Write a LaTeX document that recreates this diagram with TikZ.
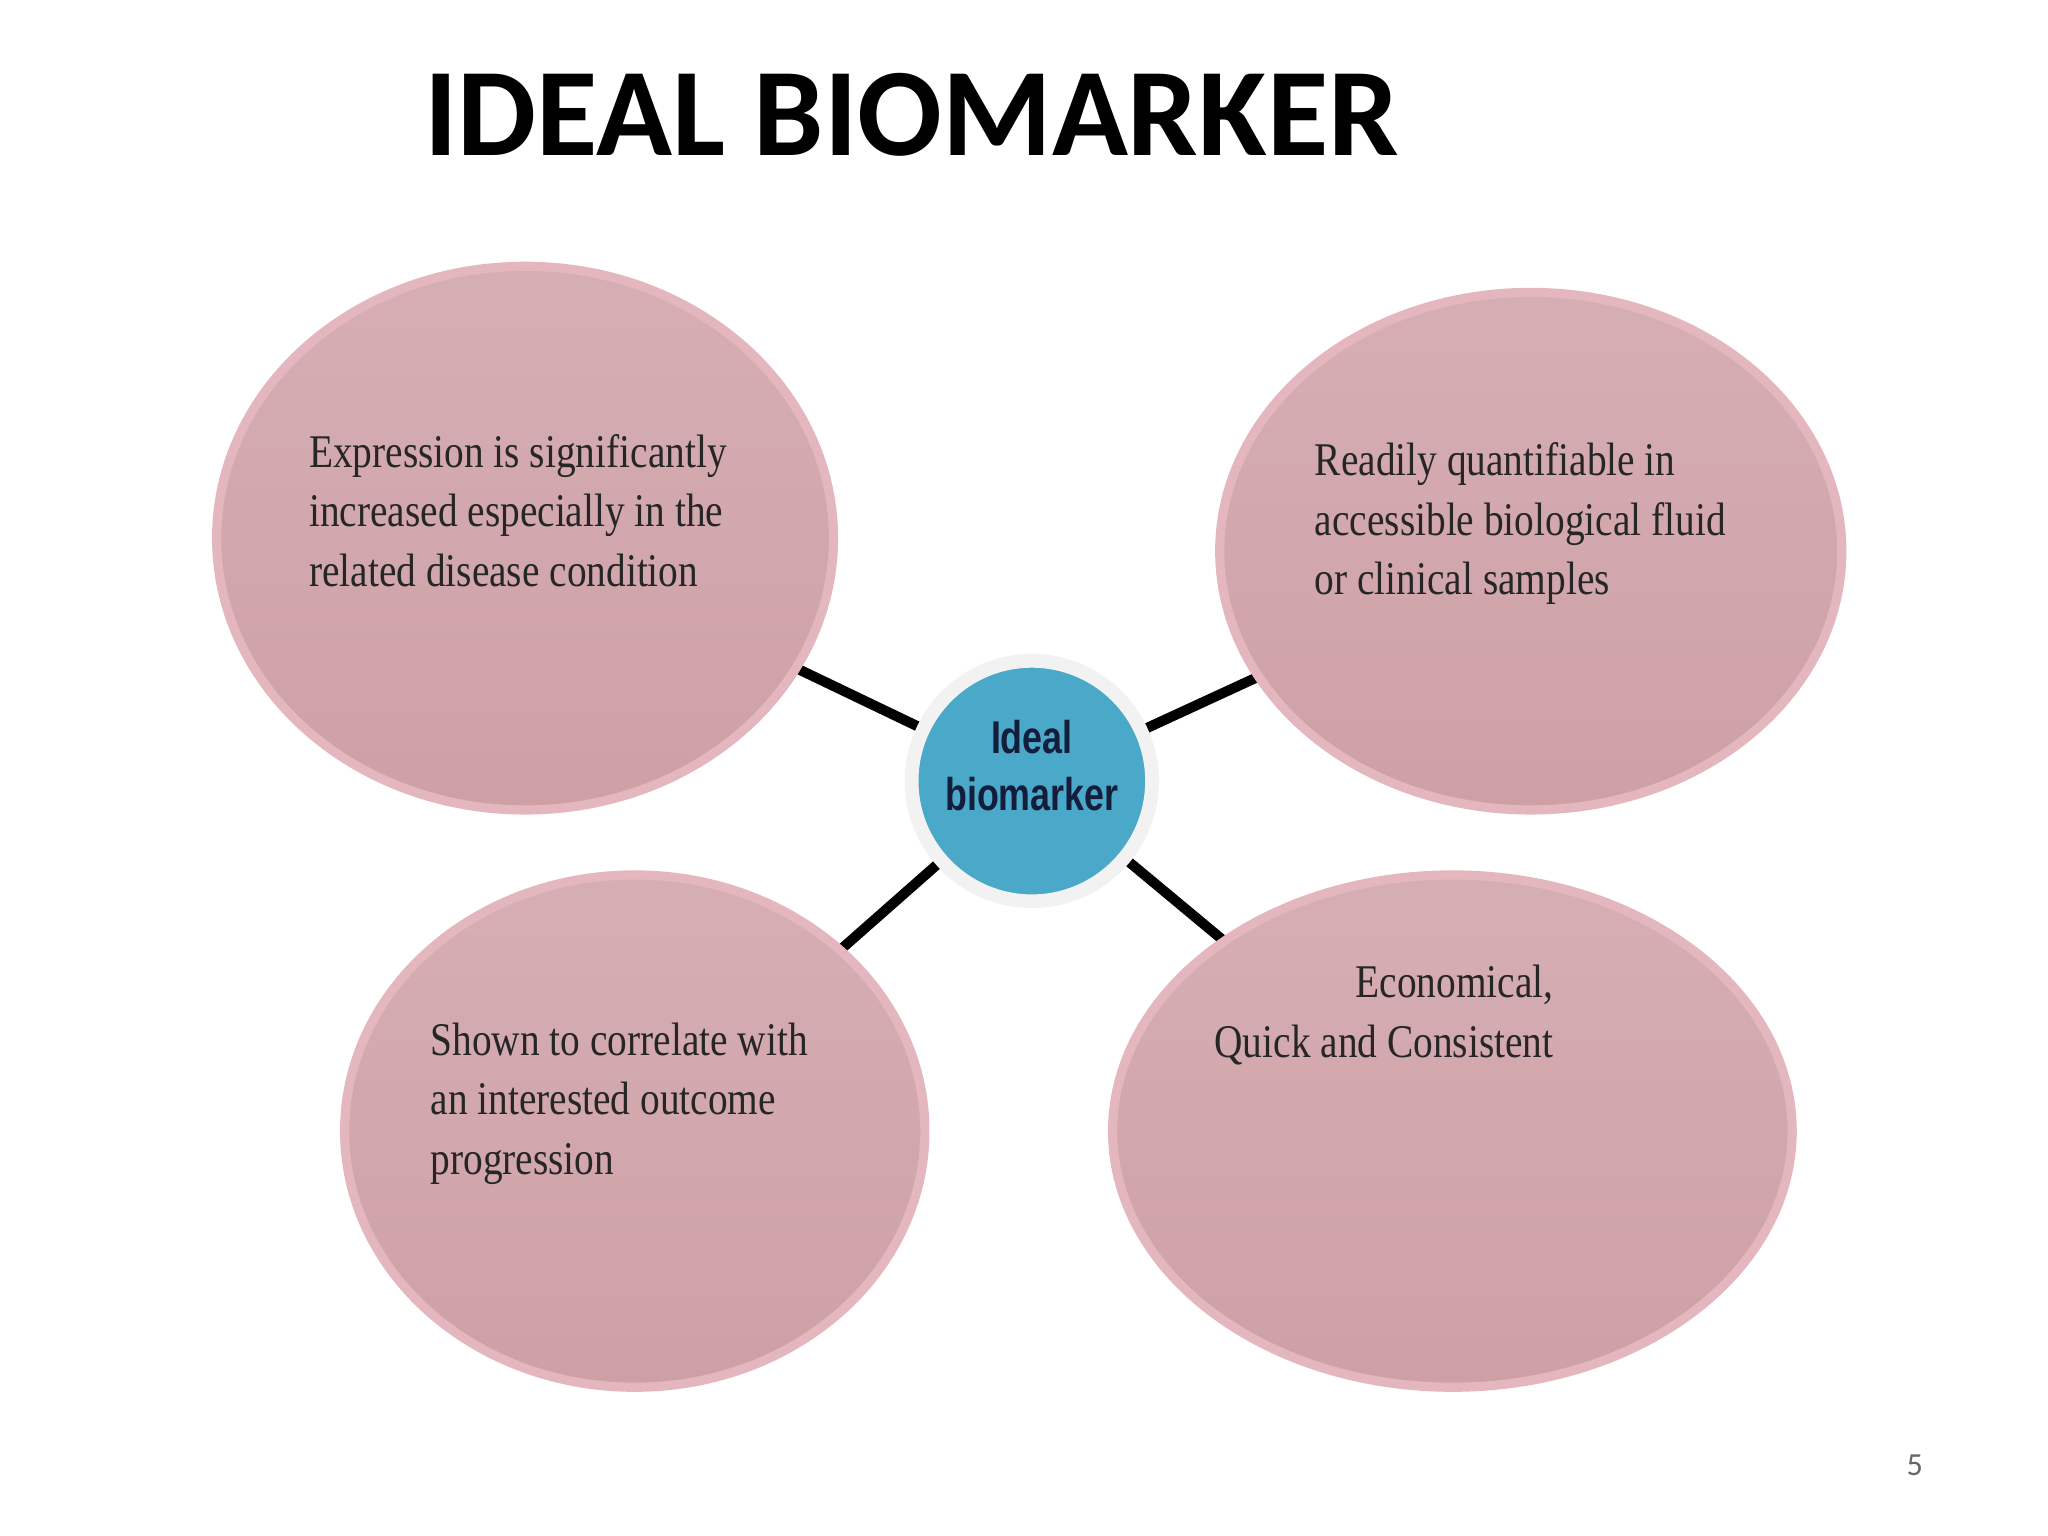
\documentclass[tikz,border=0pt]{standalone}
\usepackage{fontspec}
\setmainfont{Liberation Serif}[FakeStretch=0.84]
\newfontfamily\titlefont{Carlito}
\newfontfamily\narrowsans{Liberation Sans}[FakeStretch=0.78]
\usetikzlibrary{shapes.geometric}
\definecolor{pinkfill}{RGB}{206,160,166}
\definecolor{pinkedge}{RGB}{228,182,190}
\definecolor{bluefill}{RGB}{74,168,200}
\definecolor{navy}{RGB}{20,30,60}
\tikzset{
  bubble/.style={ellipse, draw=pinkedge, line width=2pt, top color=pinkfill!85!white, bottom color=pinkfill, inner sep=0pt},
  bubtext/.style={font=\fontsize{10.2}{13}\selectfont, text=black!85, align=left, inner sep=0pt},
  link/.style={line width=2.2pt, black}
}
\begin{document}
\begin{tikzpicture}[x=0.01cm,y=-0.01cm]
\useasboundingbox (0,0) rectangle (1568,1176);
\fill[white] (0,0) rectangle (1568,1176);
\node[font=\titlefont\bfseries\fontsize{27.3}{32}\selectfont] (title) at (698,88) {IDEAL BIOMARKER};
\node[font=\titlefont\fontsize{7}{8}\selectfont, text=black!60] (pg) at (1466,1122) {5};
\coordinate (c) at (790,598);
\coordinate (ctl) at (402,412);
\coordinate (ctr) at (1172,422);
\coordinate (cbl) at (486,866);
\coordinate (cbr) at (1112,866);
\draw[link] (c) -- (ctl);
\draw[link] (c) -- (ctr);
\draw[link] (c) -- (cbl);
\draw[link] (c) -- (cbr);
\node[bubble, minimum width=4.72cm, minimum height=4.16cm] (tl) at (ctl) {};
\node[bubble, minimum width=4.76cm, minimum height=3.96cm] (tr) at (ctr) {};
\node[bubble, minimum width=4.44cm, minimum height=3.92cm] (bl) at (cbl) {};
\node[bubble, minimum width=5.2cm, minimum height=3.92cm] (br) at (cbr) {};
\node[circle, fill=bluefill, draw=white!90!gray, line width=3pt, minimum size=1.84cm] (center) at (c) {};
\node[font=\narrowsans\bfseries\fontsize{10}{12.5}\selectfont, text=navy, align=center] (ctext) at (790,586) {Ideal\\biomarker};
\node[bubtext, anchor=west] (ttl) at (236,391) {Expression is significantly\\increased especially in the\\related disease condition};
\node[bubtext, anchor=west] (ttr) at (1006,401) {Readily quantifiable in\\accessible biological fluid\\or clinical samples};
\node[bubtext, anchor=west] (tbl) at (329,845) {Shown to correlate with\\an interested outcome\\progression};
\node[bubtext, anchor=east, align=right] (tbr) at (1190,777) {Economical,\\Quick and Consistent};
\end{tikzpicture}
\end{document}
